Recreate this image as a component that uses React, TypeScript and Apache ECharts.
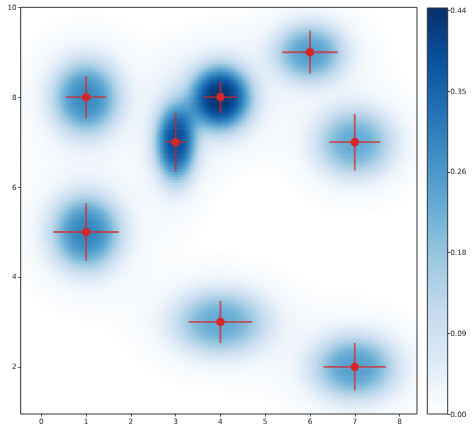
import React, { useEffect, useRef } from 'react';
import * as echarts from 'echarts';

// Points with their error bars
const pointX = [1, 4, 3, 6, 7, 1, 4, 7];
const pointY = [8, 8, 7, 9, 7, 5, 3, 2];
const errX = [0.45, 0.37, 0.22, 0.62, 0.57, 0.73, 0.71, 0.7];
const errY = [0.47, 0.35, 0.65, 0.48, 0.63, 0.64, 0.47, 0.53];

// Density blobs around each point: rounded cores plus a soft halo
const blobSizeX = [0.58, 0.53, 0.35, 0.6, 0.66, 0.6, 0.8, 0.72];
const blobSizeY = [0.64, 0.56, 0.67, 0.5, 0.58, 0.65, 0.55, 0.55];
const blobPeak = [0.29, 0.435, 0.38, 0.25, 0.23, 0.3, 0.23, 0.25];
const CORE_POWER = 2.8;
const HALO_SHARE = 0.15;
const HALO_SPREAD = 1.4;

const xTicks = [0, 1, 2, 3, 4, 5, 6, 7, 8];
const yTicks = [2, 4, 6, 8, 10];
const colorbarTicks = [0, 0.088, 0.176, 0.264, 0.352, 0.44];
const blues = ['#ffffff', '#deebf7', '#c6dbef', '#9ecae1', '#6baed6', '#4292c6', '#2171b5', '#08519c', '#08306b'];

const X_MIN = -0.46;
const X_MAX = 8.39;
const Y_MIN = 0.95;
const Y_MAX = 10;
const V_MAX = 0.4427;
const STEP = 0.06;

function buildField() {
  const out: number[][] = [];
  for (let yv = Y_MIN + STEP / 2; yv < Y_MAX + STEP / 2; yv += STEP) {
    for (let xv = X_MIN + STEP / 2; xv < X_MAX + STEP / 2; xv += STEP) {
      let v = 0;
      for (let i = 0; i < pointX.length; i++) {
        const qx = (xv - pointX[i]) / blobSizeX[i];
        const qy = (yv - pointY[i]) / blobSizeY[i];
        const q2 = qx * qx + qy * qy;
        const core = Math.exp(-0.5 * Math.pow(q2, CORE_POWER / 2));
        const halo = Math.exp(-0.5 * q2 / (HALO_SPREAD * HALO_SPREAD));
        v += blobPeak[i] * ((1 - HALO_SHARE) * core + HALO_SHARE * halo);
      }
      out.push([xv, yv, v]);
    }
  }
  return out;
}

export default function App() {
  const ref = useRef<HTMLDivElement>(null);
  useEffect(() => {
    if (!ref.current) return;
    const chart = echarts.init(ref.current, null, { renderer: 'svg' });
    // cells whose value is practically zero stay as the white background
    const field = buildField().filter((d) => d[2] > 0.005);
    const errData = pointX.map((x, i) => [x, pointY[i], errX[i], errY[i]]);
    const pts = pointX.map((x, i) => [x, pointY[i]]);
    const textStyle = { color: '#222', fontSize: 7.3, fontFamily: 'DejaVu Sans' };
    const tickStyle = { color: '#222', width: 0.8 };
    chart.setOption({
      animation: false,
      grid: [
        { left: 20.7, top: 7.3, width: 396.3, height: 406.7, show: true, z: 10, backgroundColor: 'transparent', borderColor: '#333', borderWidth: 1 },
        { left: 427.3, top: 8, width: 20.4, height: 406, show: true, z: 10, backgroundColor: 'transparent', borderColor: '#333', borderWidth: 1 },
      ],
      visualMap: {
        type: 'continuous',
        show: false,
        seriesIndex: 0,
        dimension: 2,
        min: 0,
        max: V_MAX,
        inRange: { color: blues },
      },
      xAxis: [
        {
          type: 'value', gridIndex: 0, min: X_MIN, max: X_MAX, z: 11,
          axisLine: { show: false, onZero: false },
          splitLine: { show: false },
          axisTick: { show: true, length: 2.5, lineStyle: tickStyle, customValues: xTicks },
          axisLabel: { ...textStyle, margin: 4, customValues: xTicks },
        },
        { type: 'category', gridIndex: 1, data: ['c'], show: false, boundaryGap: true },
      ],
      yAxis: [
        {
          type: 'value', gridIndex: 0, min: Y_MIN, max: Y_MAX, z: 11,
          axisLine: { show: false, onZero: false },
          splitLine: { show: false },
          axisTick: { show: true, length: 2.5, lineStyle: tickStyle, customValues: yTicks },
          axisLabel: { ...textStyle, margin: 4, customValues: yTicks },
        },
        {
          type: 'value', gridIndex: 1, min: 0, max: V_MAX, position: 'right', z: 11,
          axisLine: { show: false, onZero: false },
          splitLine: { show: false },
          axisTick: { show: true, length: 2.5, lineStyle: tickStyle, customValues: colorbarTicks },
          axisLabel: { ...textStyle, margin: 2.5, customValues: colorbarTicks, formatter: (v: number) => v.toFixed(2) },
        },
      ],
      series: [
        {
          type: 'custom',
          xAxisIndex: 0,
          yAxisIndex: 0,
          clip: true,
          silent: true,
          z: 1,
          progressive: 0,
          progressiveThreshold: 1000000,
          dimensions: ['x', 'y', 'v'],
          encode: { x: 0, y: 1 },
          data: field,
          renderItem: (params: any, api: any) => {
            const x = api.value(0);
            const y = api.value(1);
            const a = api.coord([x - STEP / 2, y + STEP / 2]);
            const b = api.coord([x + STEP / 2, y - STEP / 2]);
            return {
              type: 'rect',
              shape: { x: a[0], y: a[1], width: b[0] - a[0] + 0.6, height: b[1] - a[1] + 0.6 },
              style: { fill: api.visual('color') },
            };
          },
        },
        {
          type: 'custom',
          xAxisIndex: 0,
          yAxisIndex: 0,
          z: 3,
          silent: true,
          encode: { x: 0, y: 1 },
          data: errData,
          renderItem: (params: any, api: any) => {
            const x = api.value(0);
            const y = api.value(1);
            const ex = api.value(2);
            const ey = api.value(3);
            const l = api.coord([x - ex, y]);
            const r = api.coord([x + ex, y]);
            const t = api.coord([x, y + ey]);
            const bt = api.coord([x, y - ey]);
            const style = { stroke: '#d62728', lineWidth: 1.8, opacity: 0.72 };
            return {
              type: 'group',
              children: [
                { type: 'line', shape: { x1: l[0], y1: l[1], x2: r[0], y2: r[1] }, style },
                { type: 'line', shape: { x1: t[0], y1: t[1], x2: bt[0], y2: bt[1] }, style },
              ],
            };
          },
        },
        {
          type: 'scatter',
          xAxisIndex: 0,
          yAxisIndex: 0,
          z: 4,
          symbol: 'circle',
          symbolSize: 8.5,
          itemStyle: { color: '#d62728', opacity: 1 },
          data: pts,
        },
        {
          type: 'bar',
          xAxisIndex: 1,
          yAxisIndex: 1,
          barWidth: '100%',
          silent: true,
          data: [V_MAX],
          itemStyle: {
            color: new echarts.graphic.LinearGradient(0, 1, 0, 0, blues.map((c, i) => ({ offset: i / (blues.length - 1), color: c }))),
          },
        },
      ],
    });
    return () => chart.dispose();
  }, []);
  return <div ref={ref} style={{ position: 'fixed', left: 0, top: 0, width: 474, height: 432 }} />;
}
